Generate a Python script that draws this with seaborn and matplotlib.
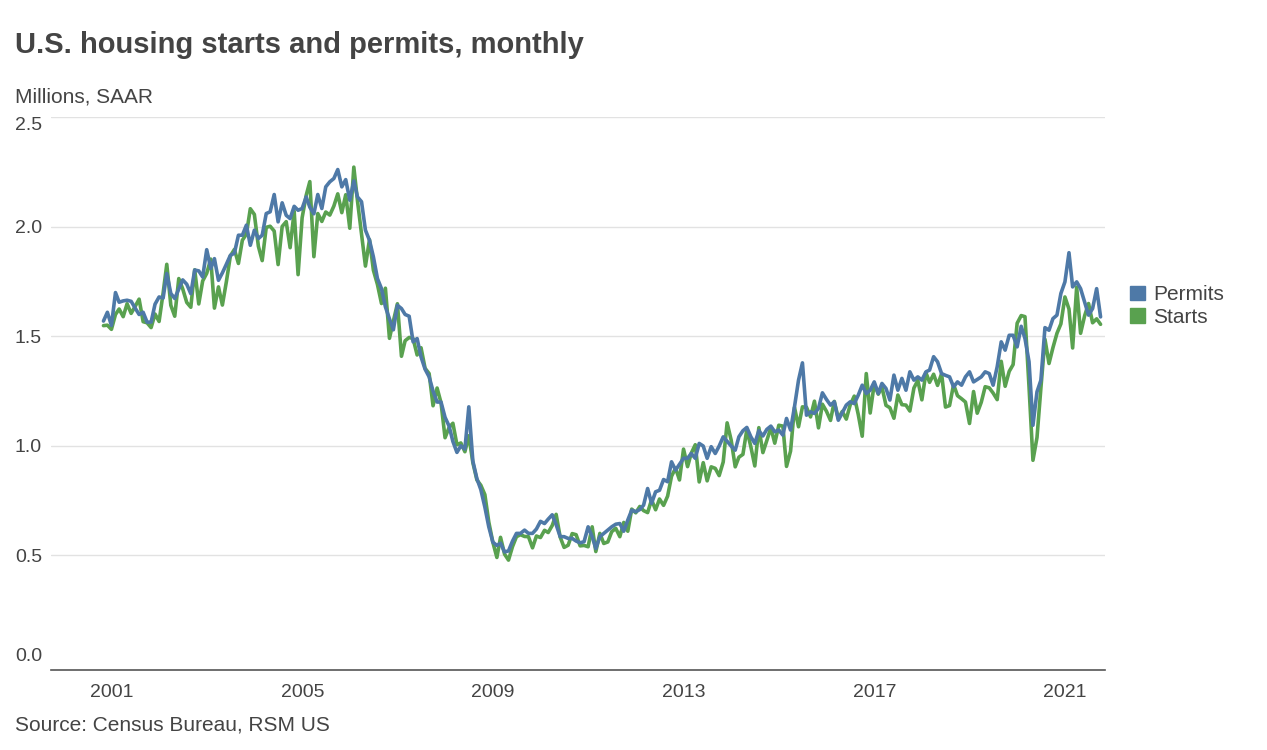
import matplotlib
matplotlib.use('Agg')
import matplotlib.pyplot as plt
import matplotlib.dates as mdates
from matplotlib.patches import Patch
import pandas as pd
import seaborn as sns

# monthly, millions SAAR, Oct 2000 .. Sep 2021
first_month = '2000-10-01'

permits = [
    1.57, 1.61, 1.55,
    1.70, 1.656, 1.662, 1.665, 1.66, 1.63, 1.60, 1.61, 1.565, 1.565, 1.647, 1.68,
    1.675, 1.787, 1.696, 1.673, 1.716, 1.758, 1.738, 1.695, 1.803, 1.799, 1.771, 1.896,
    1.81, 1.855, 1.756, 1.79, 1.83, 1.87, 1.88, 1.962, 1.962, 2.008, 1.916, 1.985,
    1.947, 1.962, 2.061, 2.069, 2.148, 2.023, 2.11, 2.053, 2.038, 2.094, 2.076, 2.084,
    2.137, 2.09, 2.06, 2.148, 2.084, 2.183, 2.206, 2.221, 2.262, 2.183, 2.216, 2.122,
    2.21, 2.137, 2.115, 1.985, 1.939, 1.863, 1.764, 1.718, 1.635, 1.58, 1.53, 1.642,
    1.627, 1.60, 1.592, 1.475, 1.49, 1.406, 1.35, 1.315, 1.25, 1.20, 1.20, 1.13,
    1.09, 1.02, 0.97, 1.00, 0.985, 1.178, 0.93, 0.85, 0.80, 0.72, 0.63, 0.56,
    0.545, 0.555, 0.515, 0.52, 0.565, 0.60, 0.60, 0.615, 0.60, 0.60, 0.62, 0.655,
    0.645, 0.665, 0.685, 0.64, 0.585, 0.585, 0.577, 0.577, 0.565, 0.557, 0.562, 0.63,
    0.585, 0.531, 0.585, 0.60, 0.615, 0.63, 0.642, 0.645, 0.61, 0.661, 0.706, 0.699,
    0.709, 0.729, 0.805, 0.737, 0.79, 0.797, 0.846, 0.836, 0.927, 0.889, 0.916, 0.943,
    0.943, 0.965, 0.943, 1.011, 0.999, 0.943, 0.996, 0.965, 0.999, 1.041, 1.021, 0.999,
    0.98, 1.041, 1.069, 1.084, 1.041, 1.011, 1.069, 1.045, 1.075, 1.09, 1.064, 1.072,
    1.049, 1.125, 1.072, 1.178, 1.30, 1.379, 1.14, 1.155, 1.148, 1.171, 1.242, 1.212,
    1.186, 1.201, 1.117, 1.151, 1.186, 1.201, 1.193, 1.232, 1.277, 1.239, 1.254, 1.292,
    1.239, 1.285, 1.262, 1.209, 1.323, 1.254, 1.308, 1.254, 1.338, 1.30, 1.315, 1.30,
    1.338, 1.346, 1.407, 1.384, 1.33, 1.322, 1.315, 1.269, 1.292, 1.277, 1.315, 1.338,
    1.292, 1.303, 1.315, 1.338, 1.33, 1.277, 1.361, 1.475, 1.437, 1.505, 1.505, 1.452,
    1.546, 1.49, 1.384, 1.094, 1.247, 1.30, 1.54, 1.528, 1.581, 1.597, 1.696, 1.749,
    1.882, 1.726, 1.749, 1.718, 1.657, 1.597, 1.627, 1.718, 1.589,
]

starts = [
    1.549, 1.551, 1.532,
    1.600, 1.625, 1.590, 1.649, 1.605, 1.636, 1.670, 1.567, 1.562, 1.540, 1.602, 1.568,
    1.698, 1.829, 1.642, 1.592, 1.764, 1.717, 1.655, 1.633, 1.804, 1.648, 1.753, 1.788,
    1.853, 1.629, 1.726, 1.643, 1.751, 1.867, 1.897, 1.833, 1.939, 1.967, 2.083, 2.057,
    1.911, 1.846, 1.998, 2.003, 1.981, 1.828, 2.002, 2.024, 1.905, 2.072, 1.782, 2.042,
    2.144, 2.207, 1.864, 2.061, 2.025, 2.068, 2.054, 2.095, 2.151, 2.065, 2.147, 1.994,
    2.273, 2.119, 1.969, 1.821, 1.942, 1.802, 1.737, 1.650, 1.720, 1.491, 1.570, 1.649,
    1.409, 1.480, 1.495, 1.490, 1.415, 1.448, 1.354, 1.330, 1.183, 1.264, 1.197, 1.037,
    1.084, 1.103, 1.005, 1.013, 0.973, 1.046, 0.923, 0.844, 0.820, 0.777, 0.652, 0.560,
    0.490, 0.582, 0.505, 0.478, 0.540, 0.585, 0.594, 0.586, 0.585, 0.534, 0.588, 0.581,
    0.614, 0.604, 0.636, 0.687, 0.583, 0.536, 0.546, 0.599, 0.594, 0.543, 0.545, 0.539,
    0.630, 0.517, 0.600, 0.554, 0.561, 0.608, 0.623, 0.585, 0.650, 0.610, 0.711, 0.694,
    0.723, 0.704, 0.695, 0.753, 0.708, 0.757, 0.728, 0.770, 0.861, 0.898, 0.844, 0.985,
    0.905, 0.966, 1.005, 0.835, 0.923, 0.840, 0.904, 0.897, 0.864, 0.926, 1.105, 1.026,
    0.904, 0.948, 0.961, 1.074, 0.995, 0.908, 1.083, 0.969, 1.024, 1.083, 1.012, 1.094,
    1.090, 0.906, 0.976, 1.176, 1.087, 1.178, 1.176, 1.132, 1.204, 1.082, 1.190, 1.158,
    1.116, 1.203, 1.124, 1.157, 1.122, 1.187, 1.227, 1.142, 1.044, 1.330, 1.150, 1.283,
    1.236, 1.269, 1.185, 1.174, 1.126, 1.232, 1.188, 1.186, 1.159, 1.264, 1.299, 1.210,
    1.334, 1.290, 1.327, 1.276, 1.329, 1.177, 1.184, 1.280, 1.229, 1.215, 1.200, 1.102,
    1.248, 1.149, 1.199, 1.270, 1.265, 1.241, 1.211, 1.386, 1.272, 1.340, 1.371, 1.560,
    1.595, 1.590, 1.269, 0.934, 1.038, 1.265, 1.487, 1.376, 1.448, 1.514, 1.557, 1.680,
    1.625, 1.447, 1.725, 1.514, 1.594, 1.650, 1.562, 1.580, 1.555,
]

tick_years = [2001, 2005, 2009, 2013, 2017, 2021]
y_ticks = [0.0, 0.5, 1.0, 1.5, 2.0, 2.5]
y_labels = ['0.0', '0.5', '1.0', '1.5', '2.0', '2.5']

colors = {'Permits': '#4e79a7', 'Starts': '#59a14f'}
text_color = '#444444'

sns.set_theme(style='white')
plt.rcParams['font.family'] = ['Liberation Sans', 'DejaVu Sans']

dates = pd.date_range(first_month, periods=len(permits), freq='MS') + pd.offsets.MonthEnd(0)
df = pd.DataFrame({'date': dates, 'Permits': permits, 'Starts': starts})
df = df.melt(id_vars='date', var_name='series', value_name='value')

W, H = 1267, 750
fig = plt.figure(figsize=(W / 100, H / 100), dpi=100)
ax = fig.add_axes([51 / W, 1 - 670 / H, (1105 - 51) / W, (670 - 117) / H])

sns.lineplot(data=df, x='date', y='value', hue='series', hue_order=['Starts', 'Permits'],
             palette=colors, linewidth=2.6, estimator=None, legend=False, ax=ax)

ax.set_xlim(pd.Timestamp('1999-09-25'), pd.Timestamp('2021-11-03'))
ax.set_ylim(-0.024, 2.502)
ax.set_xlabel('')
ax.set_ylabel('')

# x axis
ax.set_xticks([pd.Timestamp(f'{y}-01-01') for y in tick_years])
ax.set_xticklabels([str(y) for y in tick_years])
ax.xaxis.set_minor_locator(mdates.YearLocator(1))
ax.tick_params(axis='x', which='major', length=5, width=1, color='#666666',
               labelsize=14, labelcolor=text_color, pad=5)
ax.tick_params(axis='x', which='minor', length=2.5, width=1, color='#666666')

# y axis
ax.set_yticks(y_ticks)
ax.set_yticklabels(y_labels)
ax.tick_params(axis='y', length=0, labelsize=14, labelcolor=text_color, pad=26)
for lbl in ax.get_yticklabels():
    lbl.set_horizontalalignment('left')
ylbls = ax.get_yticklabels()
ylbls[0].set_verticalalignment('bottom')
ylbls[-1].set_verticalalignment('top')

ax.grid(axis='y', color='#e2e2e2', linewidth=1)
ax.get_ygridlines()[0].set_visible(False)
for s in ['top', 'right', 'left']:
    ax.spines[s].set_visible(False)
ax.spines['bottom'].set_color('#555555')
ax.spines['bottom'].set_linewidth(1.2)

fig.text(15 / W, 1 - 45 / H, 'U.S. housing starts and permits, monthly',
         fontsize=21, fontweight='bold', color=text_color, va='center')
fig.text(15 / W, 1 - 97 / H, 'Millions, SAAR', fontsize=15, color=text_color, va='center')
fig.text(15 / W, 1 - 725 / H, 'Source: Census Bureau, RSM US', fontsize=15,
         color=text_color, va='center')

handles = [Patch(color=colors['Permits'], label='Permits'),
           Patch(color=colors['Starts'], label='Starts')]
fig.legend(handles=handles, loc='center left', bbox_to_anchor=(1130 / W, 1 - 306 / H),
           frameon=False, fontsize=15, labelcolor=text_color, handlelength=0.7,
           handleheight=0.7, handletextpad=0.4, labelspacing=0.15,
           borderpad=0, borderaxespad=0)

fig.savefig('out.png', dpi=100)
